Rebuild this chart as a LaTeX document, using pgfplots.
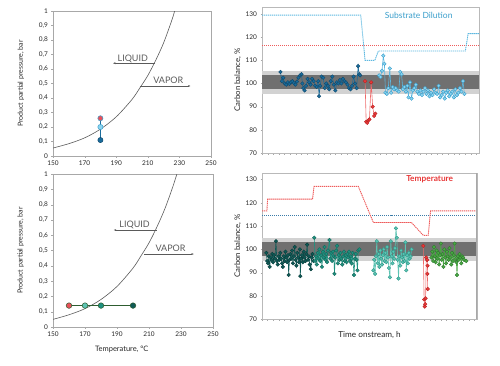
\documentclass[border=0pt]{standalone}
\usepackage{fontspec}
\setmainfont{Lato}
\usepackage{pgfplots}
\pgfplotsset{compat=1.18}
\usetikzlibrary{arrows.meta}
\definecolor{curvec}{HTML}{5A5A5A}
\definecolor{frame}{HTML}{A8A8A8}
\definecolor{dblue}{HTML}{1A6C9C}
\definecolor{dblueE}{HTML}{0F4A6E}
\definecolor{lblue}{HTML}{8AD4F0}
\definecolor{lblueE}{HTML}{3A9ECB}
\definecolor{lbline}{HTML}{5DB8E0}
\definecolor{redm}{HTML}{E83A3A}
\definecolor{redE}{HTML}{B82222}
\definecolor{redl}{HTML}{EE6A6A}
\definecolor{redp}{HTML}{E8505A}
\definecolor{redd}{HTML}{EE5C5C}
\definecolor{dteal}{HTML}{0F5A57}
\definecolor{dtealE}{HTML}{093E3C}
\definecolor{teal2}{HTML}{1F9180}
\definecolor{teal2E}{HTML}{146A5D}
\definecolor{lteal}{HTML}{5CC3B3}
\definecolor{ltealE}{HTML}{2E998A}
\definecolor{grn}{HTML}{4AA844}
\definecolor{grnE}{HTML}{2E7A2E}
\definecolor{bandL}{HTML}{D2D2D2}
\definecolor{bandD}{HTML}{707070}
\definecolor{lgreen}{HTML}{2E5D30}
\definecolor{bdot}{HTML}{3A7BA8}
\pgfplotsset{
  leftax/.style={scale only axis, xmin=150, xmax=250, ymin=0, ymax=1,
    xtick={150,170,190,210,230,250},
    ytick={0,0.1,0.2,0.3,0.4,0.5,0.6,0.7,0.8,0.9,1},
    yticklabels={0,{0,1},{0,2},{0,3},{0,4},{0,5},{0,6},{0,7},{0,8},{0,9},1},
    axis line style={frame}, tick style={frame}, major tick length=1.5pt, tick align=outside,
    xtick pos=bottom, ytick pos=left,
    ticklabel style={font=\fontsize{6.5}{7}\selectfont, text=black!85},
    /pgf/number format/assume math mode=true,
    ylabel style={font=\fontsize{7}{8}\selectfont, text=black!85},
    xlabel style={font=\fontsize{7.5}{8}\selectfont, text=black!85},
    clip=true},
  rightax/.style={scale only axis, xmin=0, xmax=100, ymin=70,
    ytick={70,80,90,100,110,120,130},
    xtick={0,2.6,...,100}, xticklabels={},
    axis line style={frame!80}, tick style={frame}, major tick length=1.5pt, tick align=outside,
    xtick pos=bottom, ytick pos=left,
    ticklabel style={font=\fontsize{6.5}{7}\selectfont, text=black!85},
    /pgf/number format/assume math mode=true,
    ylabel style={font=\fontsize{7.8}{8}\selectfont, text=black!85},
    xlabel style={font=\fontsize{8.2}{9}\selectfont, text=black!85}},
  ser/.style n args={3}{draw=#1, line width=0.6pt, mark=*, mark size=1.8pt,
    mark options={fill=#2, draw=#3, line width=0.4pt, solid}},
  fdash/.style={line width=0.9pt, dash pattern=on 1.3pt off 0.7pt},
}
\begin{document}
\begin{tikzpicture}
\useasboundingbox (0pt,0pt) rectangle (500pt,-365pt);

% ---------- top left ----------
\begin{axis}[leftax, at={(53pt,-156pt)}, anchor=south west, width=158pt, height=145pt,
  ylabel={Product partial pressure, bar}, ylabel style={at={(rel axis cs:-0.16,0.5)}}]
\addplot[curvec, line width=0.6pt, smooth] coordinates {
(150,0.055)(160,0.085)(170,0.125)(180,0.185)(190,0.27)(200,0.39)(205,0.47)(210,0.555)(215,0.66)(220,0.78)(225,0.93)(227,1.0)(228,1.05)};
\draw[curvec, line width=0.7pt, -{Stealth[length=2.5pt]}] (axis cs:214.6,0.64) -- (axis cs:188,0.64);
\draw[curvec, line width=0.7pt, -{Stealth[length=2.5pt]}] (axis cs:205,0.483) -- (axis cs:237,0.483);
\node[font=\fontsize{9}{10}\selectfont, text=curvec, anchor=base] at (axis cs:200.5,0.655) {LIQUID};
\node[font=\fontsize{9}{10}\selectfont, text=curvec, anchor=base] at (axis cs:223,0.50) {VAPOR};
\addplot[color=dblue, line width=1pt] coordinates {(180,0.11)(180,0.20)(180,0.26)};
\addplot[only marks, mark=*, mark size=2.6pt, mark options={fill=dblue, draw=dblueE, line width=0.5pt}] coordinates {(180,0.11)};
\addplot[only marks, mark=*, mark size=2.6pt, mark options={fill=lblue, draw=lblueE, line width=0.5pt}] coordinates {(180,0.20)};
\addplot[only marks, mark=*, mark size=2.6pt, mark options={fill=redp, draw=lblueE, line width=0.5pt}] coordinates {(180,0.26)};
\end{axis}

% ---------- bottom left ----------
\begin{axis}[leftax, at={(53pt,-327pt)}, anchor=south west, width=160pt, height=153pt,
  ylabel={Product partial pressure, bar}, ylabel style={at={(rel axis cs:-0.16,0.5)}},
  xlabel={Temperature, °C}, xlabel style={at={(rel axis cs:0.43,-0.1)}}]
\addplot[curvec, line width=0.6pt, smooth] coordinates {
(150,0.05)(160,0.08)(170,0.12)(180,0.18)(190,0.265)(200,0.385)(205,0.465)(210,0.55)(215,0.655)(220,0.775)(225,0.92)(228,1.02)};
\draw[curvec, line width=0.7pt, -{Stealth[length=2.5pt]}] (axis cs:214.8,0.634) -- (axis cs:188,0.634);
\draw[curvec, line width=0.7pt, -{Stealth[length=2.5pt]}] (axis cs:207,0.477) -- (axis cs:238,0.477);
\node[font=\fontsize{9}{10}\selectfont, text=curvec, anchor=base] at (axis cs:201,0.648) {LIQUID};
\node[font=\fontsize{9}{10}\selectfont, text=curvec, anchor=base] at (axis cs:223.5,0.495) {VAPOR};
\addplot[color=lgreen, line width=1.1pt] coordinates {(160,0.14)(200,0.14)};
\addplot[only marks, mark=*, mark size=2.8pt, mark options={fill=redp, draw=lgreen, line width=0.5pt}] coordinates {(160,0.14)};
\addplot[only marks, mark=*, mark size=2.8pt, mark options={fill=lteal, draw=lgreen, line width=0.5pt}] coordinates {(170,0.14)};
\addplot[only marks, mark=*, mark size=2.8pt, mark options={fill=teal2, draw=lgreen, line width=0.5pt}] coordinates {(180,0.14)};
\addplot[only marks, mark=*, mark size=2.8pt, mark options={fill=dteal, draw=lgreen, line width=0.5pt}] coordinates {(200,0.14)};
\end{axis}

% ---------- top right ----------
\begin{axis}[rightax, at={(262pt,-153pt)}, anchor=south west, width=217pt, height=146pt, ymax=133,
  ylabel={Carbon balance, \%}, ylabel style={at={(rel axis cs:-0.08,0.5)}}]
\fill[bandL] (axis cs:0,95.5) rectangle (axis cs:100,105.5);
\fill[bandD] (axis cs:0,97.5) rectangle (axis cs:100,103.5);
\addplot[color=redd, draw=redd, fdash, mark=none] coordinates {(0,116.5)(30,116.5)(60,116.5)(100,116.5)};
\addplot[color=lbline, draw=lbline, fdash, mark=none] coordinates {(0,129.5)(45.5,129.5)(47.5,110)(52,110)(53.6,114)(93.7,114)(95,121.5)(100,121.5)};
\node[font=\fontsize{8.5}{9}\selectfont, text=lblueE] at (axis cs:72.2,129.2) {Substrate Dilution};
\addplot[ser={dblue}{dblue}{dblueE}] coordinates {
(8.5,105)(9.2,101)(9.8,102.5)(10.5,100)(11.2,99.5)(11.9,100.5)(12.6,99.8)(13.3,100.5)(14.0,101)(14.7,100.2)(15.4,99.5)(16.1,100.8)(16.8,102.5)(17.5,103.5)(18.2,104)(18.6,100)(19.0,98)(19.6,97)(20.3,99)(21.0,102)(21.7,100.5)(22.4,99.5)(23.1,102)(23.8,101)(24.5,99)(25.2,98.5)(25.9,101)(26.3,94.5)(26.8,99)(27.5,103)(28.2,102.5)(28.9,98)(29.6,100)(30.3,99)(31.0,97.5)(31.7,101)(32.4,103)(33.1,99.5)(33.8,97)(34.5,100.5)(35.2,100)(35.9,101.5)(36.6,100)(37.3,102)(38.0,101)(38.7,100.5)(39.4,99.5)(40.1,98)(40.8,97.5)(41.5,99)(42.2,103)(42.9,100)(43.6,98)(44.3,107.5)(44.8,104)(45.2,103.5)};
\addplot[ser={redl}{redm}{redE}] coordinates {
(47.5,101)(48.0,83.5)(48.5,83)(49.0,84)(49.5,84.5)(50.3,100.5)(51.0,90)(51.7,86)(52.2,87)};
\addplot[ser={lbline}{lblue}{lblueE}] coordinates {
(54.0,103.5)(54.6,102.8)(55.3,105.5)(55.9,112)(56.4,108.5)(56.9,96)(57.5,95.5)(58.2,98)(58.9,106.5)(59.5,96)(60.2,98.5)(60.9,97.5)(61.6,98)(62.3,97)(63.0,96.5)(63.7,105)(64.3,104)(64.9,97.5)(65.6,98.5)(66.3,96.5)(67.0,99)(67.5,94)(68.2,100.5)(68.9,93.5)(69.5,97)(70.2,98)(70.9,99.5)(71.6,96.5)(72.3,95.5)(73.0,97)(73.7,95)(74.4,96.5)(75.1,98)(75.8,95.5)(76.5,97)(77.2,94.5)(77.9,96)(78.6,95)(79.3,97.5)(80.0,96)(80.7,95.5)(81.4,99)(82.1,94)(82.8,95)(83.5,96.5)(84.2,93.5)(84.9,96)(85.6,97)(86.3,94.5)(87.0,95.5)(87.7,96.5)(88.4,94)(89.1,97.5)(89.8,95)(90.5,96)(91.2,98)(91.9,96.5)(92.6,101)(93.3,95.5)};
\end{axis}

% ---------- bottom right ----------
\begin{axis}[rightax, at={(262pt,-319.3pt)}, anchor=south west, width=215pt, height=146pt, ymax=132.6,
  ylabel={Carbon balance, \%}, ylabel style={at={(rel axis cs:-0.08,0.5)}},
  xlabel={Time onstream, h}, xlabel style={at={(rel axis cs:0.5,-0.06)}}]
\fill[bandL] (axis cs:0,95) rectangle (axis cs:100,105);
\fill[bandD] (axis cs:0,97) rectangle (axis cs:100,103);
\addplot[color=bdot, draw=bdot, fdash, line width=0.8pt, mark=none] coordinates {(0,114.6)(30,114.6)(60,114.6)(100,114.6)};
\addplot[color=redd, draw=redd, fdash, mark=none] coordinates {(0,116.5)(2.3,116.5)(2.6,121.5)(23.5,121.5)(24.2,127)(44.8,127)(51.8,111.5)(69.5,111.5)(75,106)(77.3,106)(78.4,116.5)(100,116.5)};
\node[font=\bfseries\fontsize{8.3}{9}\selectfont, text=redm] at (axis cs:78,130.2) {Temperature};
\addplot[ser={dteal}{dteal}{dtealE}] coordinates {
(2.0,98.5)(2.4,95)(2.8,94)(3.2,97)(3.6,92.5)(4.0,96.5)(4.4,95.5)(4.8,98)(5.2,94.5)(5.6,97.5)(6.0,96)(6.5,103.5)(6.9,95)(7.3,93.5)(7.7,97)(8.1,95.5)(8.5,98.5)(8.9,96)(9.3,94)(9.7,92.5)(10.1,97)(10.5,95)(10.9,99)(11.3,96.5)(11.7,94.5)(12.1,97.5)(12.4,89)(12.8,95.5)(13.2,98)(13.6,96)(14.0,99.5)(14.4,94)(14.8,97)(15.2,101)(15.6,95.5)(16.0,93)(16.4,98.5)(16.8,96.5)(17.2,94.5)(17.6,100)(17.8,88.5)(18.2,96)(18.6,97.5)(19.0,94.5)(19.4,99)(19.8,96.5)(20.2,95)(20.6,98)(21.0,102)(21.4,95.5)(21.8,97)(22.2,93.5)(22.7,91.5)(23.1,96.5)(23.5,98)(23.9,95)};
\addplot[ser={teal2}{teal2}{teal2E}] coordinates {
(24.3,105)(24.7,95)(25.1,97)(25.5,93.5)(25.9,98.5)(26.3,96)(26.7,100)(27.1,95)(27.5,97.5)(27.9,92.5)(28.3,99)(28.7,96.5)(29.1,101)(29.5,95.5)(29.9,98)(30.3,94.5)(30.7,99.5)(31.4,104)(31.8,96)(32.2,98.5)(32.6,95)(33.0,99)(33.4,97)(33.7,89.5)(34.1,96.5)(34.5,99.5)(34.9,101.5)(35.3,94)(35.7,97.5)(36.1,95.5)(36.5,98.5)(36.9,96)(37.3,93.5)(37.7,97)(38.1,99)(38.5,95)(38.9,97.5)(39.3,94.5)(39.7,98)(40.1,96.5)(40.5,99)(40.9,95)(41.3,97)(41.7,94)(42.1,98.5)(42.8,89)(43.2,96)(43.6,98)(44.0,95.5)(44.4,91)(44.8,99.5)(45.3,100)};
\addplot[ser={lteal}{lteal}{ltealE}] coordinates {
(51.8,91)(52.2,95.5)(52.6,89.5)(53.0,97)(53.4,103.5)(53.8,94)(54.2,98)(54.6,92.5)(55.0,99.5)(55.4,96)(55.8,93.5)(56.2,97.5)(56.6,100)(57.0,95)(57.4,98.5)(57.8,94.5)(58.2,101)(58.6,96.5)(59.0,92)(59.5,88)(59.9,103.5)(60.3,97)(60.7,94)(61.1,99)(61.5,96)(61.9,100.5)(62.3,109)(62.7,105)(63.1,95.5)(63.5,87.5)(63.9,97)(64.3,93)(64.7,99.5)(65.1,96.5)(65.5,94.5)(65.9,98)(66.3,95)(66.7,103)(67.1,91)(67.5,97.5)(67.9,94)(68.3,98.5)(68.7,96)(69.1,97)(69.6,100)};
\addplot[ser={redl}{redm}{redE}] coordinates {
(75.0,101.5)(75.4,78.5)(75.7,75.5)(75.9,76.5)(76.1,79)(76.4,96.5)(76.8,95.5)(77.0,93)(76.9,89.5)(77.1,83)};
\addplot[ser={grn}{grn}{grnE}] coordinates {
(78.8,96.5)(79.2,99)(79.6,95)(80.0,101)(80.4,97)(80.8,94.5)(81.2,99.5)(81.6,96)(82.0,98.5)(82.4,93.5)(82.8,97.5)(83.2,102.5)(83.6,95.5)(84.0,98)(84.4,92.5)(84.8,100)(85.2,96.5)(85.6,94)(86.0,99)(86.4,97)(86.8,95.5)(87.2,100.5)(87.6,96.5)(88.0,93.5)(88.4,98.5)(88.8,95)(89.2,97.5)(89.6,102.5)(90.0,96)(90.4,94.5)(90.7,89)(91.1,97)(91.5,95.5)(91.9,98)(92.3,96.5)(92.7,94)(93.1,97)(93.5,96.5)(94.0,95.5)(95.0,95)};
\draw[frame, line width=2.5pt] (rel axis cs:1,0) -- (rel axis cs:1,1);
\end{axis}
\end{tikzpicture}
\end{document}
